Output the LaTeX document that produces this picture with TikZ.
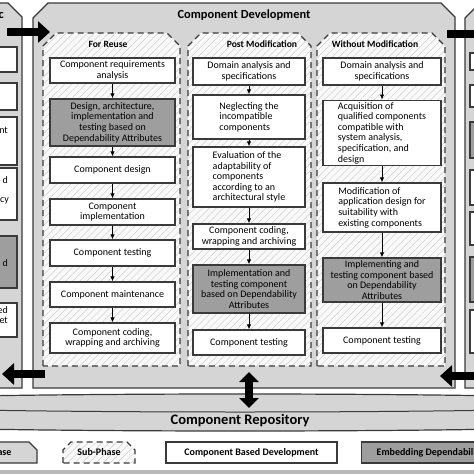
\documentclass[tikz,border=0pt]{standalone}
\usepackage{fontspec}
\setmainfont{Carlito}
\usetikzlibrary{arrows.meta,patterns.meta}

\definecolor{edgegray}{HTML}{3A3A3A}
\definecolor{phasegray}{HTML}{D5D5D5}
\definecolor{dependgray}{HTML}{9E9E9E}
\definecolor{hatchgray}{HTML}{CFCFCF}

\tikzset{
    comp/.style={draw=edgegray, line width=1.3pt, fill=white, inner sep=2pt,
        font=\fontsize{10}{10.6}\selectfont, align=center},
    depend/.style={comp, fill=dependgray},
    reusebox/.style={comp, minimum width=125pt},
    postbox/.style={comp, minimum width=112pt},
    withoutbox/.style={comp, minimum width=118pt},
    flow/.style={-{Latex[length=5pt,width=4.5pt]}, line width=0.9pt},
    phase/.style={draw=edgegray, line width=1.3pt, fill=phasegray},
    subphase/.style={draw=edgegray, line width=1.2pt, dash pattern=on 6pt off 4pt,
        preaction={fill=gray!5}, pattern={Lines[angle=45,distance=5pt,line width=0.5pt]},
        pattern color=hatchgray},
    bigarrow/.style={line width=8pt, -{Triangle[length=12pt,width=21pt]}},
    subtitle/.style={font=\bfseries\fontsize{9.6}{11}\selectfont},
    keytext/.style={font=\bfseries\fontsize{10}{11}\selectfont},
    fragment/.style={anchor=east, inner sep=0pt, font=\fontsize{10}{10.6}\selectfont}
}

\begin{document}
\begin{tikzpicture}[x=1pt,y=-1pt]
    \clip (0,0) rectangle (474,474);
    \fill[white] (0,0) rectangle (474,474);
    % Phases
    \draw[phase] (-40,388) -- (-40,3) -- (8,3) -- (22,17) -- (22,388) -- cycle;
    \draw[phase] (33,388) -- (33,18) -- (48,3) -- (441,3) -- (455,17) -- (455,388) -- cycle;
    \draw[phase] (465,388) -- (465,18) -- (479,4) -- (520,4) -- (520,388) -- cycle;
    \node[subtitle, font=\bfseries\fontsize{12.4}{14}\selectfont] (devtitle) at (244,15) {Component Development};
    \node[fragment, font=\bfseries\fontsize{12.4}{14}\selectfont] (lefttitle) at (4,15) {c};
    % Sub-phases
    \draw[subphase] (43,366) -- (43,46) -- (56,33) -- (167,33) -- (180,46) -- (180,366) -- cycle;
    \draw[subphase] (188,366) -- (188,46) -- (201,33) -- (298,33) -- (311,46) -- (311,366) -- cycle;
    \draw[subphase] (317,366) -- (317,46) -- (330,33) -- (432,33) -- (445,46) -- (445,366) -- cycle;
    \node[subtitle] (reusetitle) at (108,44) {For Reuse};
    \node[subtitle] (posttitle) at (262,44) {Post Modification};
    \node[subtitle] (withouttitle) at (375,44) {Without Modification};
    % Nodes: for reuse
    \node[reusebox, minimum height=25pt] (reuse1) at (112.5,70.5) {Component requirements\\analysis};
    \node[reusebox, depend, minimum height=47pt] (reuse2) at (112.5,122.5) {Design, architecture,\\implementation and\\testing based on\\Dependability Attributes};
    \node[reusebox, minimum height=26pt] (reuse3) at (112.5,170) {Component design};
    \node[reusebox, minimum height=26pt] (reuse4) at (112.5,212) {Component\\implementation};
    \node[reusebox, minimum height=26pt] (reuse5) at (112.5,253) {Component testing};
    \node[reusebox, minimum height=25pt] (reuse6) at (112.5,294.5) {Component maintenance};
    \node[reusebox, minimum height=30pt] (reuse7) at (112.5,338) {Component coding,\\wrapping and archiving};
    % Nodes: post modification
    \node[postbox, minimum height=27pt] (post1) at (249,71.5) {Domain analysis and\\specifications};
    \node[postbox, minimum height=44pt, align=left] (post2) at (249,117) {Neglecting the\\incompatible\\components};
    \node[postbox, minimum height=60pt, align=left] (post3) at (249,177) {Evaluation of the\\adaptability of\\components\\according to an\\architectural style};
    \node[postbox, minimum height=25pt] (post4) at (249,236.5) {Component coding,\\wrapping and archiving};
    \node[postbox, depend, minimum height=48pt] (post5) at (249,289) {Implementation and\\testing component\\based on Dependability\\Attributes};
    \node[postbox, minimum height=25pt] (post6) at (249,342.5) {Component testing};
    % Nodes: without modification
    \node[withoutbox, minimum height=27pt] (without1) at (382,71.5) {Domain analysis and\\specifications};
    \node[withoutbox, minimum height=64pt, align=left] (without2) at (382,133) {Acquisition of\\qualified components\\compatible with\\system analysis,\\specification, and\\design};
    \node[withoutbox, minimum height=49pt, align=left] (without3) at (382,207.5) {Modification of\\application design for\\suitability with\\existing components};
    \node[withoutbox, depend, minimum height=44pt] (without4) at (382,280) {Implementing and\\testing component based\\on Dependability\\Attributes};
    \node[withoutbox, minimum height=25pt] (without5) at (382,340.5) {Component testing};
    % Nodes: neighbouring phases
    \node[comp, minimum width=56pt, minimum height=25pt] (left1) at (-11,59.5) {};
    \node[comp, minimum width=56pt, minimum height=27pt] (left2) at (-11,96.5) {};
    \node[comp, minimum width=56pt, minimum height=48pt] (left3) at (-11,141) {};
    \node[comp, minimum width=56pt, minimum height=52pt] (left4) at (-11,194) {};
    \node[depend, minimum width=56pt, minimum height=52pt] (left5) at (-11,262) {};
    \node[comp, minimum width=56pt, minimum height=34pt] (left6) at (-11,320) {};
    \node[fragment] at (8,130) {nt};
    \node[fragment] at (8,180) {d};
    \node[fragment] at (9,201) {cy};
    \node[fragment] at (8,263) {d};
    \node[fragment] at (8,310) {ed};
    \node[fragment] at (8,320) {et};
    \node[comp, minimum width=50pt, minimum height=17pt] (right1) at (495,61.5) {};
    \node[comp, minimum width=50pt, minimum height=22pt] (right2) at (495,96) {};
    \node[depend, minimum width=50pt, minimum height=36pt] (right3) at (495,140) {};
    \node[comp, minimum width=50pt, minimum height=35pt] (right4) at (495,187.5) {};
    \node[comp, minimum width=50pt, minimum height=33pt] (right5) at (495,228.5) {};
    \node[depend, minimum width=50pt, minimum height=45pt] (right6) at (495,279.5) {};
    \node[comp, minimum width=50pt, minimum height=43pt] (right7) at (495,331.5) {};
    % Edges
    \foreach \a/\b in {1/2,2/3,3/4,4/5,5/6,6/7}
        \draw[flow] (reuse\a) -- (reuse\b);
    \foreach \a/\b in {1/2,2/3,3/4,4/5,5/6}
        \draw[flow] (post\a) -- (post\b);
    \foreach \a/\b in {1/2,2/3,3/4,4/5}
        \draw[flow] (without\a) -- (without\b);
    % Repository
    \draw[phase, line width=1.2pt] (-180,403) -- (-180,422)
        arc[start angle=180, end angle=0, x radius=420, y radius=9] -- (660,403)
        arc[start angle=0, end angle=-180, x radius=420, y radius=9] -- cycle;
    \draw[edgegray, line width=1pt] (-180,403) arc[start angle=180, end angle=0, x radius=420, y radius=9];
    \node[font=\bfseries\fontsize{14.5}{16}\selectfont] (repo) at (240,421) {Component Repository};
    % Phase arrows
    \coordinate (leftout) at (7,32);
    \coordinate (devin) at (50,32);
    \coordinate (devout) at (447,34);
    \coordinate (rightin) at (500,34);
    \coordinate (devback) at (45,374);
    \coordinate (leftin) at (2,374);
    \coordinate (rightback) at (500,376);
    \coordinate (devreturn) at (440,376);
    \coordinate (devbottom) at (249,372);
    \coordinate (repotop) at (249,408);
    \draw[bigarrow] (leftout) -- (devin);
    \draw[bigarrow] (devout) -- (rightin);
    \draw[bigarrow] (devback) -- (leftin);
    \draw[bigarrow] (rightback) -- (devreturn);
    \draw[line width=8pt, {Triangle[length=10pt,width=19pt]}-{Triangle[length=10pt,width=19pt]}] (devbottom) -- (repotop);
    % Key
    \draw[phase] (-40,463) -- (-40,442) -- (29,442) -- (37,450) -- (37,463) -- cycle;
    \node[keytext, anchor=east] (keyphase) at (15,452.5) {Phase};
    \draw[subphase] (63,463) -- (63,450) -- (71,442) -- (127,442) -- (135,450) -- (135,463) -- cycle;
    \node[keytext] (keysub) at (99,452.5) {Sub-Phase};
    \node[comp, keytext, minimum width=171pt, minimum height=21pt] (keycbd) at (251.5,452.5) {Component Based Development};
    \node[depend, keytext, anchor=west, inner xsep=15pt, minimum height=21pt] (keydep) at (361,452.5) {Embedding Dependability Attributes};
    \fill[gray!55] (0,470) rectangle (474,474);
\end{tikzpicture}
\end{document}
